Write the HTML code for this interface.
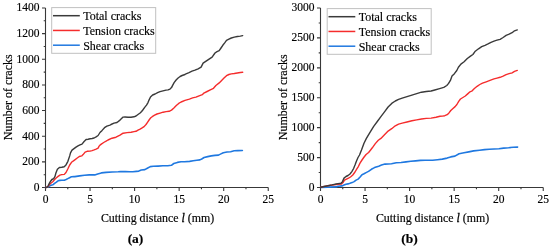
<!DOCTYPE html>
<html><head><meta charset="utf-8"><style>
html,body{margin:0;padding:0;background:#fff;width:550px;height:249px;overflow:hidden}
svg{display:block;will-change:transform}
text{font-family:"Liberation Serif",serif;fill:#000;stroke:#000;stroke-width:0.15px}
</style></head><body>
<svg width="550" height="249" viewBox="0 0 550 249">
<rect width="550" height="249" fill="#fff"/>
<path d="M45.5 8.0V187.5H268.25" fill="none" stroke="#383838" stroke-width="1.1"/>
<path d="M45.50 187.5v3.5 M90.05 187.5v3.5 M134.60 187.5v3.5 M179.15 187.5v3.5 M223.70 187.5v3.5 M268.25 187.5v3.5 M67.78 187.5v1.8 M112.33 187.5v1.8 M156.88 187.5v1.8 M201.43 187.5v1.8 M245.97 187.5v1.8 M45.5 187.50h-3.5 M45.5 161.86h-3.5 M45.5 136.21h-3.5 M45.5 110.57h-3.5 M45.5 84.93h-3.5 M45.5 59.29h-3.5 M45.5 33.64h-3.5 M45.5 8.00h-3.5 M45.5 174.68h-1.8 M45.5 149.04h-1.8 M45.5 123.39h-1.8 M45.5 97.75h-1.8 M45.5 72.11h-1.8 M45.5 46.46h-1.8 M45.5 20.82h-1.8" fill="none" stroke="#383838" stroke-width="1.1"/>
<text x="45.50" y="203.0" text-anchor="middle" font-size="11.5">0</text>
<text x="90.05" y="203.0" text-anchor="middle" font-size="11.5">5</text>
<text x="134.60" y="203.0" text-anchor="middle" font-size="11.5">10</text>
<text x="179.15" y="203.0" text-anchor="middle" font-size="11.5">15</text>
<text x="223.70" y="203.0" text-anchor="middle" font-size="11.5">20</text>
<text x="268.25" y="203.0" text-anchor="middle" font-size="11.5">25</text>
<text x="39.5" y="190.90" text-anchor="end" font-size="11.5">0</text>
<text x="39.5" y="165.26" text-anchor="end" font-size="11.5">200</text>
<text x="39.5" y="139.61" text-anchor="end" font-size="11.5">400</text>
<text x="39.5" y="113.97" text-anchor="end" font-size="11.5">600</text>
<text x="39.5" y="88.33" text-anchor="end" font-size="11.5">800</text>
<text x="39.5" y="62.69" text-anchor="end" font-size="11.5">1000</text>
<text x="39.5" y="37.04" text-anchor="end" font-size="11.5">1200</text>
<text x="39.5" y="11.40" text-anchor="end" font-size="11.5">1400</text>
<text transform="translate(12.0,97.3) rotate(-90)" text-anchor="middle" font-size="12">Number of cracks</text>
<text x="157.6" y="221.8" text-anchor="middle" font-size="11.9">Cutting distance <tspan font-style="italic" style="stroke-width:0.3px">l</tspan> (mm)</text>
<text x="135.5" y="243" text-anchor="middle" font-size="13.5" font-weight="bold">(a)</text>
<polyline points="45.5,187.5 48.0,187.0 49.3,186.1 51.1,185.2 52.8,184.8 54.6,183.4 56.4,182.1 58.1,180.8 59.9,180.4 61.7,180.2 64.3,180.2 66.1,179.5 67.8,178.6 69.6,177.7 71.4,176.8 74.0,176.6 74.8,176.6 79.6,175.9 84.5,175.3 89.3,174.9 94.7,174.9 97.7,173.9 101.3,172.9 106.1,172.4 112.2,172.0 118.2,171.8 120.6,171.6 125.4,171.6 130.0,171.7 132.8,171.8 136.4,171.4 138.8,171.1 141.3,170.0 144.9,169.6 147.3,168.3 150.3,166.6 153.3,166.3 158.1,166.1 162.9,165.8 167.8,165.7 171.4,165.3 173.8,163.5 177.4,162.4 181.0,161.8 184.6,161.7 189.6,161.4 193.2,160.7 196.8,160.2 199.9,159.9 201.7,159.0 204.1,157.5 207.7,156.6 211.3,155.9 214.9,155.4 218.5,155.1 220.9,153.9 223.3,152.7 227.0,152.0 230.6,151.7 234.2,150.8 237.8,150.6 242.4,150.5" fill="none" stroke="#1f78e0" stroke-width="1.6" stroke-linejoin="round" stroke-linecap="round"/>
<polyline points="45.5,187.5 47.0,187.2 48.0,186.5 49.3,184.8 51.1,183.0 52.8,181.7 54.6,179.5 56.4,177.7 58.1,176.4 59.9,175.1 61.7,174.6 64.3,174.4 66.0,172.5 67.9,168.8 69.7,165.0 71.5,162.3 74.5,160.1 76.9,158.3 79.3,156.5 81.7,155.9 83.1,154.6 85.1,152.1 87.1,151.3 90.1,151.1 92.1,150.6 94.1,149.9 96.1,149.1 98.1,148.1 99.1,146.1 100.0,145.1 101.3,144.1 103.7,142.5 106.1,141.2 108.0,140.0 112.0,138.2 116.0,137.2 120.0,135.2 123.1,133.2 127.1,132.6 131.1,132.2 134.0,131.6 136.0,131.3 138.0,130.1 140.1,129.1 142.1,127.9 144.1,126.6 146.0,124.5 147.5,122.3 149.4,119.5 150.8,117.8 152.2,116.7 154.6,115.2 157.0,114.0 160.1,113.1 163.1,112.2 166.1,111.6 169.1,111.3 171.5,110.1 173.9,108.0 176.3,105.6 178.7,103.4 181.1,102.0 185.0,100.4 189.4,99.1 192.6,97.9 195.9,97.1 199.1,95.8 202.3,94.7 203.9,93.1 207.1,91.5 210.3,89.9 213.5,88.3 215.9,85.5 219.2,82.9 221.6,80.5 224.0,78.1 226.5,75.7 228.9,74.5 231.3,73.9 234.3,73.5 237.3,73.0 240.3,72.5 242.7,72.3" fill="none" stroke="#f52c2c" stroke-width="1.4" stroke-linejoin="round" stroke-linecap="round"/>
<polyline points="45.5,187.5 47.0,187.2 48.0,186.1 49.3,183.4 50.6,181.2 51.9,179.5 53.7,178.6 55.0,176.4 55.9,173.0 57.4,169.3 59.4,167.5 61.8,167.3 64.2,166.7 66.0,164.9 67.9,161.3 69.7,155.9 70.5,152.8 72.0,150.1 74.0,148.6 76.0,147.1 78.0,145.9 80.0,144.9 82.0,144.1 84.1,141.5 86.1,139.5 88.1,139.2 90.1,138.8 92.1,138.5 94.1,138.0 96.1,136.8 98.1,135.5 100.0,132.5 102.1,130.4 104.5,127.7 106.9,126.1 110.0,125.1 111.0,124.5 114.0,123.1 117.0,122.5 120.0,120.1 123.1,117.1 125.0,117.0 128.0,117.2 131.0,117.2 134.0,116.8 136.0,116.0 138.0,114.5 140.1,113.0 141.6,111.5 142.8,110.0 144.5,107.6 146.5,105.1 148.0,102.6 149.0,100.1 150.5,97.0 152.6,95.0 155.1,94.0 157.6,92.6 160.0,91.6 162.0,91.1 164.0,90.6 166.0,90.1 168.0,89.9 170.0,89.1 171.5,87.6 172.5,85.6 174.1,82.6 176.1,80.0 178.1,78.0 180.1,76.5 182.1,75.5 185.0,74.5 186.0,73.8 189.0,72.6 192.0,71.2 195.0,70.2 198.1,68.8 201.1,67.1 203.1,63.1 206.1,61.1 209.1,59.1 212.1,57.1 215.0,53.0 217.0,51.7 219.2,50.7 221.0,48.0 222.8,45.3 224.7,42.9 226.5,40.4 228.9,39.2 231.3,38.0 234.3,37.1 237.3,36.5 240.3,36.1 242.7,35.6" fill="none" stroke="#3a3a3a" stroke-width="1.4" stroke-linejoin="round" stroke-linecap="round"/>
<rect x="51.7" y="7.6" width="104" height="45.7" fill="#fff" stroke="#c0c0c0" stroke-width="1"/>
<path d="M53 15.70H79.8" stroke="#3a3a3a" stroke-width="1.5"/>
<text x="83.2" y="20.30" font-size="12">Total cracks</text>
<path d="M53 30.45H79.8" stroke="#f52c2c" stroke-width="1.5"/>
<text x="83.2" y="35.05" font-size="12">Tension cracks</text>
<path d="M53 45.20H79.8" stroke="#1f78e0" stroke-width="1.5"/>
<text x="83.2" y="49.80" font-size="12">Shear cracks</text>
<path d="M320.5 8.0V187.5H543.25" fill="none" stroke="#383838" stroke-width="1.1"/>
<path d="M320.50 187.5v3.5 M365.05 187.5v3.5 M409.60 187.5v3.5 M454.15 187.5v3.5 M498.70 187.5v3.5 M543.25 187.5v3.5 M342.77 187.5v1.8 M387.32 187.5v1.8 M431.88 187.5v1.8 M476.43 187.5v1.8 M520.98 187.5v1.8 M320.5 187.50h-3.5 M320.5 157.58h-3.5 M320.5 127.67h-3.5 M320.5 97.75h-3.5 M320.5 67.83h-3.5 M320.5 37.92h-3.5 M320.5 8.00h-3.5 M320.5 172.54h-1.8 M320.5 142.62h-1.8 M320.5 112.71h-1.8 M320.5 82.79h-1.8 M320.5 52.88h-1.8 M320.5 22.96h-1.8" fill="none" stroke="#383838" stroke-width="1.1"/>
<text x="320.50" y="203.0" text-anchor="middle" font-size="11.5">0</text>
<text x="365.05" y="203.0" text-anchor="middle" font-size="11.5">5</text>
<text x="409.60" y="203.0" text-anchor="middle" font-size="11.5">10</text>
<text x="454.15" y="203.0" text-anchor="middle" font-size="11.5">15</text>
<text x="498.70" y="203.0" text-anchor="middle" font-size="11.5">20</text>
<text x="543.25" y="203.0" text-anchor="middle" font-size="11.5">25</text>
<text x="314.5" y="190.90" text-anchor="end" font-size="11.5">0</text>
<text x="314.5" y="160.98" text-anchor="end" font-size="11.5">500</text>
<text x="314.5" y="131.07" text-anchor="end" font-size="11.5">1000</text>
<text x="314.5" y="101.15" text-anchor="end" font-size="11.5">1500</text>
<text x="314.5" y="71.23" text-anchor="end" font-size="11.5">2000</text>
<text x="314.5" y="41.32" text-anchor="end" font-size="11.5">2500</text>
<text x="314.5" y="11.40" text-anchor="end" font-size="11.5">3000</text>
<text transform="translate(287.0,97.3) rotate(-90)" text-anchor="middle" font-size="12">Number of cracks</text>
<text x="432.6" y="221.8" text-anchor="middle" font-size="11.9">Cutting distance <tspan font-style="italic" style="stroke-width:0.3px">l</tspan> (mm)</text>
<text x="409.4" y="243" text-anchor="middle" font-size="13.5" font-weight="bold">(b)</text>
<polyline points="320.8,187.4 328.0,187.1 336.1,186.9 338.0,186.3 342.0,185.9 344.0,185.1 346.0,184.3 348.0,183.9 350.0,183.3 352.1,182.6 354.1,181.6 356.1,180.1 358.1,179.1 360.1,177.0 362.0,174.7 364.0,173.8 366.1,172.6 368.5,171.4 371.4,169.3 374.5,167.6 378.7,166.2 381.5,165.1 385.0,164.1 391.5,163.7 396.3,162.8 401.1,162.5 406.0,161.9 410.8,161.3 415.6,160.9 420.4,160.4 425.0,160.2 427.8,160.3 432.6,160.3 437.5,159.7 442.3,159.1 447.1,158.1 450.7,156.9 454.9,156.1 459.1,153.7 464.0,152.8 468.8,151.9 473.6,150.9 479.6,150.2 484.5,149.6 489.3,149.3 494.1,149.0 498.9,148.7 503.7,148.1 508.6,147.7 513.4,147.2 517.6,147.1" fill="none" stroke="#1f78e0" stroke-width="1.6" stroke-linejoin="round" stroke-linecap="round"/>
<polyline points="320.8,187.3 325.6,186.1 330.5,185.3 334.5,184.7 338.0,184.3 341.5,184.1 343.0,182.6 344.5,180.1 346.5,179.1 348.5,178.1 350.5,177.0 352.8,175.0 355.0,172.0 357.0,168.6 358.5,166.3 360.0,163.1 362.0,160.0 364.1,157.0 366.1,154.5 368.6,152.5 370.6,150.0 372.3,147.8 375.3,143.6 378.3,140.3 380.9,138.4 384.5,134.8 388.1,131.1 391.7,128.7 395.3,125.8 398.6,124.1 402.2,123.1 407.0,122.0 411.9,120.8 416.7,119.9 421.5,119.0 426.3,118.4 431.1,118.1 436.0,117.2 440.0,116.3 442.4,116.1 444.8,115.7 447.2,114.7 449.0,112.9 450.8,110.5 452.7,108.7 455.1,106.6 456.9,104.5 458.7,101.4 460.5,99.0 462.9,97.5 465.3,96.0 467.7,93.9 470.0,91.8 471.7,91.2 474.4,88.5 477.1,86.3 479.8,84.5 482.5,83.1 486.2,81.8 490.0,80.4 494.0,78.9 497.0,78.1 500.1,77.3 503.1,76.1 506.1,74.6 509.1,73.7 512.1,72.8 514.5,71.3 517.3,70.4" fill="none" stroke="#f52c2c" stroke-width="1.4" stroke-linejoin="round" stroke-linecap="round"/>
<polyline points="320.8,187.3 324.0,186.5 328.0,185.7 332.1,184.9 336.1,184.0 338.0,183.6 341.0,183.3 342.5,181.6 344.0,178.1 346.0,176.5 348.0,175.5 350.0,174.0 352.0,171.3 353.6,168.5 355.0,165.1 356.5,161.0 358.0,157.5 359.5,155.0 360.5,152.5 361.5,150.0 364.0,143.2 366.4,138.4 370.0,132.3 373.7,126.3 377.3,121.5 380.9,116.7 384.5,111.9 388.1,107.0 391.7,103.4 395.3,101.0 398.6,99.4 402.2,98.2 407.0,96.7 411.9,95.1 416.7,93.7 421.5,92.2 426.3,91.5 431.1,91.0 434.8,90.0 439.6,88.6 443.8,87.4 446.8,85.5 448.6,83.4 450.4,80.4 452.0,76.1 454.4,73.7 456.8,70.5 458.4,67.3 460.9,64.1 464.1,61.7 467.3,58.5 470.5,56.1 472.9,54.5 475.3,51.2 478.5,48.8 481.7,46.7 485.0,45.3 488.0,43.9 491.0,42.3 494.0,41.1 497.0,40.2 500.1,39.3 503.1,37.5 506.1,35.4 509.1,34.2 512.1,32.7 514.5,30.8 517.3,29.9" fill="none" stroke="#3a3a3a" stroke-width="1.4" stroke-linejoin="round" stroke-linecap="round"/>
<rect x="327.2" y="8.6" width="104" height="45.7" fill="#fff" stroke="#c0c0c0" stroke-width="1"/>
<path d="M328.5 16.70H355.3" stroke="#3a3a3a" stroke-width="1.5"/>
<text x="358.7" y="21.30" font-size="12">Total cracks</text>
<path d="M328.5 31.45H355.3" stroke="#f52c2c" stroke-width="1.5"/>
<text x="358.7" y="36.05" font-size="12">Tension cracks</text>
<path d="M328.5 46.20H355.3" stroke="#1f78e0" stroke-width="1.5"/>
<text x="358.7" y="50.80" font-size="12">Shear cracks</text>
</svg>
</body></html>
